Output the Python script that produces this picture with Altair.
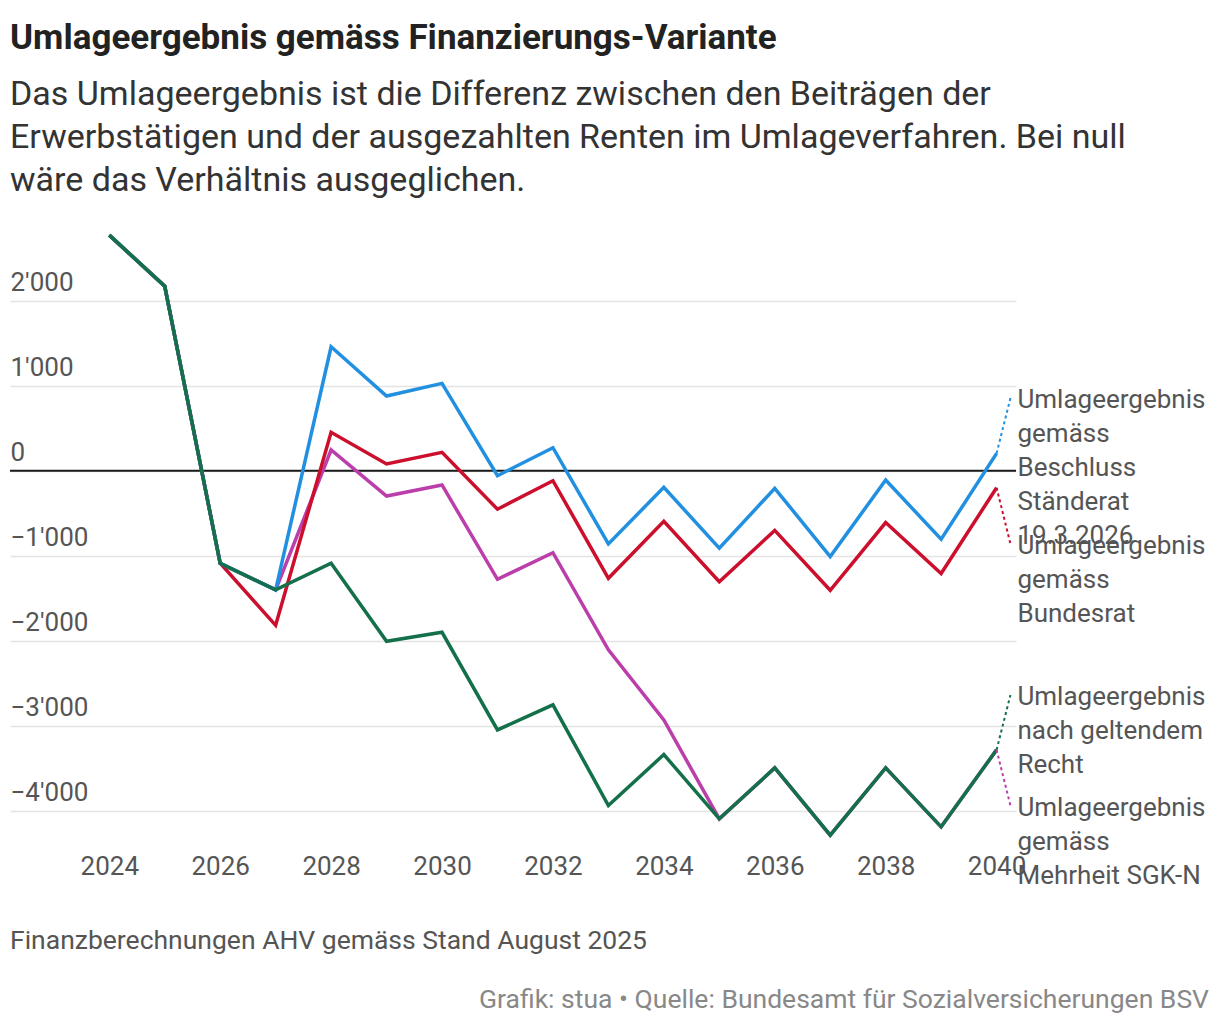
import altair as alt
import pandas as pd

# ---------------- data ----------------
years = list(range(2024, 2041))

geltendes_recht = [2773, 2173, -1089, -1403, -1089, -2008, -1902, -3051, -2756,
                   -3941, -3341, -4098, -3498, -4290, -3498, -4192, -3286]
staenderat = [2773, 2173, -1089, -1403, 1459, 879, 1028, -59, 271,
              -862, -195, -913, -207, -1011, -109, -807, 204]
bundesrat = [2773, 2173, -1089, -1820, 452, 79, 216, -453, -118,
             -1266, -596, -1306, -702, -1407, -610, -1210, -200]
mehrheit_sgkn = [2773, 2173, -1089, -1403, 244, -298, -168, -1278, -965,
                 -2109, -2933, -4098, -3498, -4290, -3498, -4192, -3286]

series_keys = ["sgkn", "bundesrat", "staenderat", "recht"]  # drawing order
series_values = {
    "sgkn": mehrheit_sgkn,
    "bundesrat": bundesrat,
    "staenderat": staenderat,
    "recht": geltendes_recht,
}
series_labels = {
    "staenderat": "Umlageergebnis\ngemäss\nBeschluss\nStänderat\n19.3.2026",
    "bundesrat": "Umlageergebnis\ngemäss\nBundesrat",
    "recht": "Umlageergebnis\nnach geltendem\nRecht",
    "sgkn": "Umlageergebnis\ngemäss\nMehrheit SGK-N",
}
series_colors = {
    "staenderat": "#2190e0",
    "bundesrat": "#cc0f2c",
    "recht": "#13704a",
    "sgkn": "#bb3eaa",
}
# where each end label sits (value units, after the original's label placement)
label_anchor = {"staenderat": 855, "bundesrat": -862, "recht": -2639, "sgkn": -3943}
label_x = 2040.25

y_ticks = [-4000, -3000, -2000, -1000, 0, 1000, 2000]
x_ticks = years[::2]

title = "Umlageergebnis gemäss Finanzierungs-Variante"
subtitle = [
    "Das Umlageergebnis ist die Differenz zwischen den Beiträgen der",
    "Erwerbstätigen und der ausgezahlten Renten im Umlageverfahren. Bei null",
    "wäre das Verhältnis ausgeglichen.",
]
note = "Finanzberechnungen AHV gemäss Stand August 2025"
source = "Grafik: stua • Quelle: Bundesamt für Sozialversicherungen BSV"

# ---------------- tables ----------------
rows = []
for k in series_keys:
    for yr, v in zip(years, series_values[k]):
        rows.append({"series": k, "year": yr, "value": v})
df = pd.DataFrame(rows)

lab = pd.DataFrame([
    {"series": k, "year": years[-1], "value": series_values[k][-1],
     "lx": label_x, "ly": label_anchor[k], "label": series_labels[k]}
    for k in series_keys
])

FONT = "Roboto"
W, H = 1006, 621

xscale = alt.Scale(domain=[2022.21, 2040.35], nice=False, zero=False)
yscale = alt.Scale(domain=[-4500, 2810], nice=False, zero=False)
color = alt.Color("series:N", legend=None,
                  scale=alt.Scale(domain=list(series_colors.keys()),
                                  range=list(series_colors.values())))

xaxis = alt.Axis(values=x_ticks, format="d", title=None, domain=False, ticks=False,
                 tickSize=0, labelPadding=0, grid=False, labelFlush=False,
                 labelFont=FONT, labelFontSize=26, labelColor="#555555")
yaxis = alt.Axis(values=y_ticks, title=None, domain=False, ticks=False, tickSize=0,
                 labelAlign="left", labelBaseline="alphabetic", labelOffset=-10,
                 labelPadding=0, grid=True, gridColor="#e4e4e4", gridWidth=1.5,
                 labelFont=FONT, labelFontSize=26, labelColor="#555555",
                 labelExpr="replace(format(datum.value, ','), ',', \"'\")")


def X(field):
    return alt.X(field, scale=xscale, axis=xaxis)


def Y(field):
    return alt.Y(field, scale=yscale, axis=yaxis)


base = alt.Chart(df)

zero_rule = alt.Chart(pd.DataFrame({"z": [0]})).mark_rule(
    color="#1a1a1a", strokeWidth=2).encode(y=Y("z:Q"))

line_layers = []
for k in series_keys:
    line_layers.append(
        base.transform_filter(alt.datum.series == k).mark_line(
            strokeWidth=3.5, strokeJoin="miter", strokeCap="butt").encode(
            x=X("year:Q"), y=Y("value:Q"), color=color,
        )
    )

leaders = alt.Chart(lab).mark_rule(strokeWidth=2, strokeDash=[3, 3]).encode(
    x=X("year:Q"), y=Y("value:Q"), x2="lx:Q", y2="ly:Q", color=color,
)

labels = alt.Chart(lab).mark_text(
    align="left", baseline="middle", dx=7, dy=2, font=FONT, fontSize=26,
    lineBreak="\n", lineHeight=34, color="#555555").encode(
    x=X("lx:Q"), y=Y("ly:Q"), text="label:N",
)

foot = alt.Chart(pd.DataFrame({"t": [note]})).mark_text(
    align="left", baseline="alphabetic", font=FONT, fontSize=26.5, color="#555555").encode(
    x=alt.value(0), y=alt.value(717), text="t:N")
src = alt.Chart(pd.DataFrame({"t": [source]})).mark_text(
    align="right", baseline="alphabetic", font=FONT, fontSize=26.5, color="#888888").encode(
    x=alt.value(1199), y=alt.value(776), text="t:N")

chart = alt.layer(zero_rule, *line_layers, leaders, labels, foot, src).properties(
    width=W, height=H,
    autosize=alt.AutoSizeParams(type="none"),
    padding={"left": 10, "top": 232, "right": 204, "bottom": 179},
    title=alt.TitleParams(
        text=title, subtitle=subtitle, anchor="start", frame="group",
        font=FONT, fontSize=35, fontWeight="bold", color="#222222",
        subtitleFont=FONT, subtitleFontSize=34, subtitleColor="#333333",
        subtitleLineHeight=43, subtitlePadding=22, offset=30,
    ),
).configure(background="white").configure_view(stroke=None)

chart.save("out.html", embed_options={"renderer": "svg", "actions": False})
